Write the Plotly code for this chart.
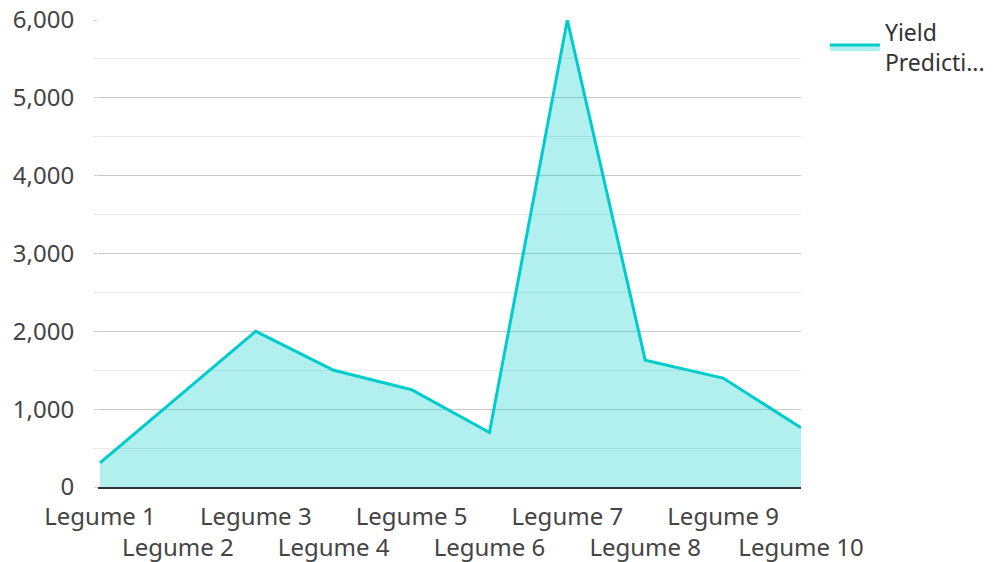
import plotly.graph_objects as go

categories = ["Legume 1", "Legume 2", "Legume 3", "Legume 4", "Legume 5",
              "Legume 6", "Legume 7", "Legume 8", "Legume 9", "Legume 10"]
yield_values = [310, 1150, 2000, 1500, 1250, 700, 6000, 1630, 1400, 760]
series_name = "Yield<br>Predicti..."

tick_text = [c if i % 2 == 0 else "<br>" + c for i, c in enumerate(categories)]

fig = go.Figure()
fig.add_trace(go.Scatter(
    x=list(range(len(categories))), y=yield_values, mode="lines",
    name=series_name, fill="tozeroy",
    line=dict(color="#00CCCC", width=3),
    fillcolor="rgba(0,204,204,0.3)",
))

font = "Noto Sans, Open Sans, sans-serif"
fig.update_layout(
    width=993, height=562,
    margin=dict(l=98, r=192, t=20, b=75, autoexpand=False),
    paper_bgcolor="white", plot_bgcolor="white",
    font=dict(family=font, size=24, color="#444"),
    showlegend=True,
    legend=dict(x=1.034, y=1.02, xanchor="left", yanchor="top",
                font=dict(size=23, color="#333"), itemwidth=50, tracegroupgap=0),
    xaxis=dict(
        tickmode="array", tickvals=list(range(len(categories))), ticktext=tick_text,
        range=[-0.026, 9], showgrid=False, showline=True, linecolor="#333",
        linewidth=2, ticks="", tickangle=0, zeroline=False, automargin=False,
        ticklabelstandoff=7,
        tickfont=dict(size=24, color="#444"),
    ),
    yaxis=dict(
        range=[0, 6000], dtick=1000, tickformat=",", showgrid=True,
        gridcolor="#c8c8c8", gridwidth=1, zeroline=False, automargin=False,
        ticks="outside", ticklen=3, tickcolor="#ccc", ticklabelstandoff=15,
        tickfont=dict(size=24, color="#444"),
        minor=dict(dtick=500, showgrid=True, gridcolor="#e8e8e8",
                   ticks="outside", ticklen=3, tickcolor="#e0e0e0"),
    ),
)

fig.write_html("out.html", config={"displayModeBar": False},
               post_script="document.body.style.margin='0';")
